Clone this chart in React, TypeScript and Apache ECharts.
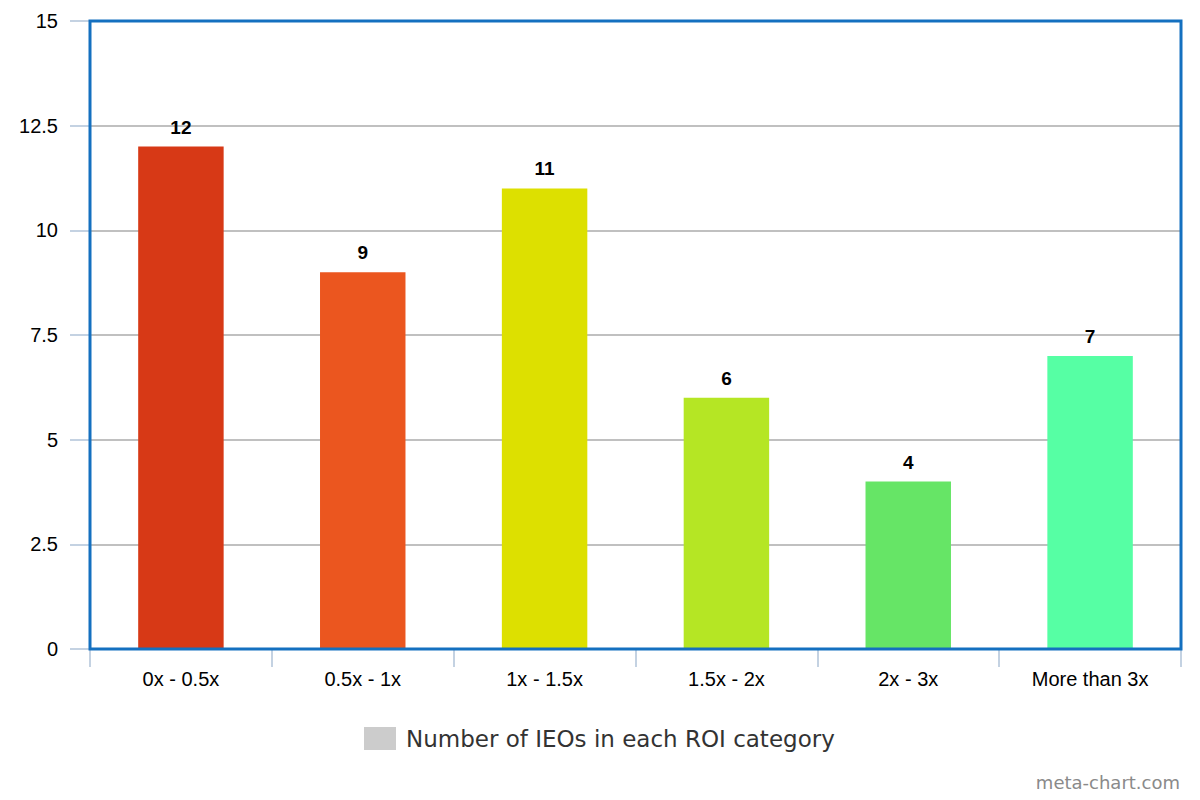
import React, { useEffect, useRef } from "react";
import * as echarts from "echarts";

const categories = ["0x - 0.5x", "0.5x - 1x", "1x - 1.5x", "1.5x - 2x", "2x - 3x", "More than 3x"];
const values = [12, 9, 11, 6, 4, 7];
const barColors = ["#d73916", "#eb561f", "#dde000", "#b5e624", "#66e566", "#56ffa4"];
const seriesName = "Number of IEOs in each ROI category";
const yTicks = { min: 0, max: 15, interval: 2.5 };

export default function App() {
  const ref = useRef<HTMLDivElement>(null);
  useEffect(() => {
    if (!ref.current) return;
    const chart = echarts.init(ref.current, undefined, { renderer: "svg" });
    chart.setOption({
      animation: false,
      backgroundColor: "#ffffff",
      grid: {
        left: 90,
        right: 19,
        top: 21,
        bottom: 151,
        show: true,
        borderColor: "#1470c0",
        borderWidth: 3,
        backgroundColor: "transparent",
        z: 10,
      },
      legend: {
        show: true,
        left: 359,
        top: 722,
        icon: "rect",
        itemWidth: 32,
        itemHeight: 23,
        itemGap: 10,
        textStyle: {
          fontFamily: "DejaVu Sans",
          fontSize: 23,
          color: "#333333",
          padding: [0, 0, 0, 5],
        },
        data: [seriesName],
      },
      xAxis: {
        type: "category",
        data: categories,
        axisLine: { show: false },
        axisTick: { show: true, length: 18, lineStyle: { color: "#c4d2e2", width: 2 } },
        axisLabel: {
          margin: 20,
          fontFamily: "Liberation Sans",
          fontSize: 20,
          color: "#000000",
        },
      },
      yAxis: {
        type: "value",
        min: yTicks.min,
        max: yTicks.max,
        interval: yTicks.interval,
        axisLine: { show: false },
        axisTick: { show: true, length: 20, lineStyle: { color: "#c4d2e2", width: 2 } },
        axisLabel: {
          margin: 32,
          fontFamily: "Liberation Sans",
          fontSize: 20,
          color: "#000000",
        },
        splitLine: { show: true, lineStyle: { color: "#c0c0c0", width: 2 } },
      },
      series: [
        {
          name: seriesName,
          type: "bar",
          barWidth: "47%",
          itemStyle: { color: "#cccccc" },
          data: values.map((v, i) => ({ value: v, itemStyle: { color: barColors[i] } })),
          label: {
            show: true,
            position: "top",
            distance: 10,
            fontFamily: "Liberation Sans",
            fontWeight: "bold",
            fontSize: 19,
            color: "#000000",
          },
        },
      ],
      graphic: [
        {
          type: "text",
          right: 20,
          top: 773,
          style: {
            text: "meta-chart.com",
            fontFamily: "DejaVu Sans",
            fontSize: 18,
            fill: "#8a8a8a",
          },
        },
      ],
    });
    return () => chart.dispose();
  }, []);
  return (
    <div
      ref={ref}
      style={{ position: "fixed", left: 0, top: 0, width: 1200, height: 800 }}
    />
  );
}
